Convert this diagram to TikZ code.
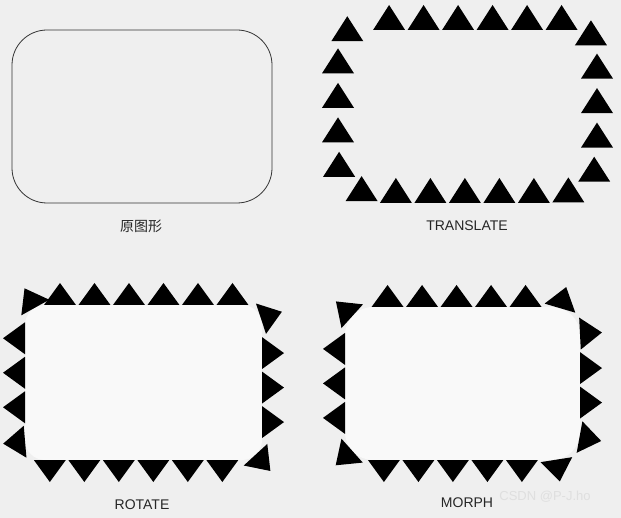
\documentclass[tikz,border=0pt]{standalone}
\usepackage{fontspec}
\setmainfont{Liberation Sans}
\newfontfamily\cjk{Noto Sans CJK SC}
\usetikzlibrary{decorations.markings}
\definecolor{bg}{HTML}{EFEFEF}
\begin{document}
\begin{tikzpicture}[x=1pt,y=-1pt,
  lbl/.style={font=\fontsize{14}{16}\selectfont, text=black!85},
  transl/.style={decorate,decoration={markings,
    mark=between positions 0.02 and 1 step 34.5pt with {\pgftransformresetnontranslations
      \fill[sharp corners] (-16pt,0pt)--(16pt,0pt)--(0pt,25pt)--cycle;}}},
  rot/.style={decorate,decoration={markings,
    mark=between positions 0.02 and 1 step 34.5pt with {
      \fill[sharp corners] (-16pt,0pt)--(16pt,0pt)--(0pt,22pt)--cycle;}}}]
\fill[bg] (0,0) rectangle (621,518);
% original
\draw[black!80,line width=0.8pt,rounded corners=35] (12,30)--(272,30)--(272,203)--(12,203)--cycle;
\node[lbl,font=\cjk\fontsize{14}{16}\selectfont] (l1) at (141,226) {原图形};
% translate
\path[transl,rounded corners=35] (338,30)--(597,30)--(597,203)--(338,203)--cycle;
\node[lbl] (l2) at (467,226) {TRANSLATE};
% rotate
\fill[white!60!bg,rounded corners=20] (25,305)--(262,305)--(262,460)--(25,460)--cycle;
\path[rot,rounded corners=20] (25,305)--(262,305)--(262,460)--(25,460)--cycle;
\node[lbl] (l3) at (142,505) {ROTATE};
% morph
\fill[white!60!bg,rounded corners=28] (345,307)--(580,307)--(580,460)--(345,460)--cycle;
\path[rot,rounded corners=28] (345,307)--(580,307)--(580,460)--(345,460)--cycle;
\node[lbl] (l4) at (467,503) {MORPH};
\node[font=\fontsize{13}{15}\selectfont,text=white!75!gray] (wm) at (545,497) {CSDN @P-J.ho};
\end{tikzpicture}
\end{document}
